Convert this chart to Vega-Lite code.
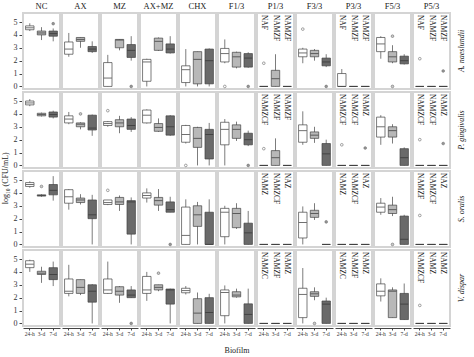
{
"$schema": "https://vega.github.io/schema/vega-lite/v6.json",
"padding": {"left": 1, "top": 1, "right": 1, "bottom": 1},
"title": {"text": "log₁₀ (CFU/mL)", "orient": "left", "anchor": "middle", "fontSize": 8, "fontWeight": "normal", "color": "#222", "offset": 3},
"data": {"values": [
{"sp":"A. naeslundii","tr":"NC","d":"24-h","lo":4.3,"q1":4.4,"md":4.55,"q3":4.7,"hi":4.9},
{"sp":"A. naeslundii","tr":"NC","d":"3-d","lo":3.6,"q1":4.0,"md":4.15,"q3":4.3,"hi":4.6},
{"sp":"A. naeslundii","tr":"NC","d":"7-d","lo":3.5,"q1":3.9,"md":4.1,"q3":4.3,"hi":4.5},
{"sp":"A. naeslundii","tr":"AX","d":"24-h","lo":2.3,"q1":2.5,"md":2.9,"q3":3.45,"hi":4.15},
{"sp":"A. naeslundii","tr":"AX","d":"3-d","lo":3.0,"q1":3.5,"md":3.65,"q3":3.8,"hi":3.8},
{"sp":"A. naeslundii","tr":"AX","d":"7-d","lo":2.6,"q1":2.7,"md":2.9,"q3":3.1,"hi":3.5},
{"sp":"A. naeslundii","tr":"MZ","d":"24-h","lo":0,"q1":0,"md":0.65,"q3":1.85,"hi":2.45},
{"sp":"A. naeslundii","tr":"MZ","d":"3-d","lo":2.8,"q1":3.0,"md":3.6,"q3":3.65,"hi":3.65},
{"sp":"A. naeslundii","tr":"MZ","d":"7-d","lo":2.0,"q1":2.25,"md":2.8,"q3":3.25,"hi":3.9},
{"sp":"A. naeslundii","tr":"AX+MZ","d":"24-h","lo":0,"q1":0.4,"md":1.9,"q3":2.1,"hi":2.15},
{"sp":"A. naeslundii","tr":"AX+MZ","d":"3-d","lo":2.75,"q1":2.8,"md":3.5,"q3":3.75,"hi":3.8},
{"sp":"A. naeslundii","tr":"AX+MZ","d":"7-d","lo":2.55,"q1":2.6,"md":2.9,"q3":3.3,"hi":3.9},
{"sp":"A. naeslundii","tr":"CHX","d":"24-h","lo":0,"q1":0.3,"md":1.3,"q3":1.6,"hi":2.9},
{"sp":"A. naeslundii","tr":"CHX","d":"3-d","lo":0,"q1":0.2,"md":2.1,"q3":2.7,"hi":2.7},
{"sp":"A. naeslundii","tr":"CHX","d":"7-d","lo":0,"q1":0.2,"md":2.0,"q3":2.9,"hi":2.95},
{"sp":"A. naeslundii","tr":"F1/3","d":"24-h","lo":1.8,"q1":1.9,"md":2.55,"q3":2.95,"hi":3.65},
{"sp":"A. naeslundii","tr":"F1/3","d":"3-d","lo":1.4,"q1":1.5,"md":2.3,"q3":2.65,"hi":2.7},
{"sp":"A. naeslundii","tr":"F1/3","d":"7-d","lo":1.45,"q1":1.5,"md":2.2,"q3":2.55,"hi":2.65},
{"sp":"A. naeslundii","tr":"P1/3","d":"24-h","lo":0,"q1":0,"md":0,"q3":0,"hi":0},
{"sp":"A. naeslundii","tr":"P1/3","d":"3-d","lo":0,"q1":0,"md":0.6,"q3":1.25,"hi":2.5},
{"sp":"A. naeslundii","tr":"P1/3","d":"7-d","lo":0,"q1":0,"md":0,"q3":0,"hi":0},
{"sp":"A. naeslundii","tr":"F3/3","d":"24-h","lo":1.8,"q1":2.3,"md":2.6,"q3":2.9,"hi":3.0},
{"sp":"A. naeslundii","tr":"F3/3","d":"3-d","lo":2.0,"q1":2.3,"md":2.55,"q3":2.8,"hi":2.9},
{"sp":"A. naeslundii","tr":"F3/3","d":"7-d","lo":1.5,"q1":1.6,"md":1.9,"q3":2.2,"hi":2.5},
{"sp":"A. naeslundii","tr":"P3/3","d":"24-h","lo":0,"q1":0,"md":0,"q3":1.0,"hi":1.35},
{"sp":"A. naeslundii","tr":"P3/3","d":"3-d","lo":0,"q1":0,"md":0,"q3":0,"hi":0},
{"sp":"A. naeslundii","tr":"P3/3","d":"7-d","lo":0,"q1":0,"md":0,"q3":0,"hi":0},
{"sp":"A. naeslundii","tr":"F5/3","d":"24-h","lo":2.15,"q1":2.7,"md":3.3,"q3":3.8,"hi":3.9},
{"sp":"A. naeslundii","tr":"F5/3","d":"3-d","lo":1.8,"q1":1.9,"md":2.3,"q3":2.7,"hi":3.2},
{"sp":"A. naeslundii","tr":"F5/3","d":"7-d","lo":1.7,"q1":1.75,"md":2.0,"q3":2.35,"hi":2.5},
{"sp":"A. naeslundii","tr":"P5/3","d":"24-h","lo":0,"q1":0,"md":0,"q3":0,"hi":0},
{"sp":"A. naeslundii","tr":"P5/3","d":"3-d","lo":0,"q1":0,"md":0,"q3":0,"hi":0},
{"sp":"A. naeslundii","tr":"P5/3","d":"7-d","lo":0,"q1":0,"md":0,"q3":0,"hi":0},
{"sp":"P. gingivalis","tr":"NC","d":"24-h","lo":4.6,"q1":4.7,"md":4.85,"q3":5.0,"hi":5.15},
{"sp":"P. gingivalis","tr":"NC","d":"3-d","lo":3.8,"q1":3.85,"md":3.95,"q3":4.05,"hi":4.1},
{"sp":"P. gingivalis","tr":"NC","d":"7-d","lo":3.65,"q1":3.75,"md":3.95,"q3":4.15,"hi":4.25},
{"sp":"P. gingivalis","tr":"AX","d":"24-h","lo":3.2,"q1":3.3,"md":3.6,"q3":3.85,"hi":4.15},
{"sp":"P. gingivalis","tr":"AX","d":"3-d","lo":2.8,"q1":3.0,"md":3.2,"q3":3.3,"hi":3.35},
{"sp":"P. gingivalis","tr":"AX","d":"7-d","lo":2.3,"q1":2.75,"md":2.9,"q3":3.9,"hi":3.95},
{"sp":"P. gingivalis","tr":"MZ","d":"24-h","lo":3.0,"q1":3.1,"md":3.25,"q3":3.4,"hi":3.45},
{"sp":"P. gingivalis","tr":"MZ","d":"3-d","lo":2.5,"q1":3.0,"md":3.3,"q3":3.55,"hi":3.85},
{"sp":"P. gingivalis","tr":"MZ","d":"7-d","lo":2.6,"q1":2.8,"md":3.1,"q3":3.6,"hi":3.75},
{"sp":"P. gingivalis","tr":"AX+MZ","d":"24-h","lo":3.25,"q1":3.3,"md":3.9,"q3":4.3,"hi":4.35},
{"sp":"P. gingivalis","tr":"AX+MZ","d":"3-d","lo":2.6,"q1":2.65,"md":2.95,"q3":3.25,"hi":3.65},
{"sp":"P. gingivalis","tr":"AX+MZ","d":"7-d","lo":2.3,"q1":2.35,"md":3.0,"q3":3.85,"hi":3.9},
{"sp":"P. gingivalis","tr":"CHX","d":"24-h","lo":1.7,"q1":1.8,"md":2.4,"q3":3.1,"hi":3.15},
{"sp":"P. gingivalis","tr":"CHX","d":"3-d","lo":0,"q1":1.4,"md":2.1,"q3":2.95,"hi":3.0},
{"sp":"P. gingivalis","tr":"CHX","d":"7-d","lo":0,"q1":0.5,"md":2.4,"q3":2.8,"hi":3.3},
{"sp":"P. gingivalis","tr":"F1/3","d":"24-h","lo":0,"q1":1.6,"md":2.8,"q3":3.35,"hi":3.6},
{"sp":"P. gingivalis","tr":"F1/3","d":"3-d","lo":1.9,"q1":2.1,"md":2.8,"q3":3.15,"hi":3.4},
{"sp":"P. gingivalis","tr":"F1/3","d":"7-d","lo":1.5,"q1":1.6,"md":2.0,"q3":2.5,"hi":2.7},
{"sp":"P. gingivalis","tr":"P1/3","d":"24-h","lo":0,"q1":0,"md":0,"q3":0,"hi":0},
{"sp":"P. gingivalis","tr":"P1/3","d":"3-d","lo":0,"q1":0,"md":0.6,"q3":1.15,"hi":2.1},
{"sp":"P. gingivalis","tr":"P1/3","d":"7-d","lo":0,"q1":0,"md":0,"q3":0,"hi":0},
{"sp":"P. gingivalis","tr":"F3/3","d":"24-h","lo":1.6,"q1":1.8,"md":2.7,"q3":3.15,"hi":4.2},
{"sp":"P. gingivalis","tr":"F3/3","d":"3-d","lo":1.75,"q1":2.1,"md":2.35,"q3":2.6,"hi":3.0},
{"sp":"P. gingivalis","tr":"F3/3","d":"7-d","lo":0,"q1":0,"md":0.9,"q3":1.7,"hi":2.0},
{"sp":"P. gingivalis","tr":"P3/3","d":"24-h","lo":0,"q1":0,"md":0,"q3":0,"hi":0},
{"sp":"P. gingivalis","tr":"P3/3","d":"3-d","lo":0,"q1":0,"md":0,"q3":0,"hi":0},
{"sp":"P. gingivalis","tr":"P3/3","d":"7-d","lo":0,"q1":0,"md":0,"q3":0,"hi":0},
{"sp":"P. gingivalis","tr":"F5/3","d":"24-h","lo":1.6,"q1":2.2,"md":3.0,"q3":3.75,"hi":3.9},
{"sp":"P. gingivalis","tr":"F5/3","d":"3-d","lo":1.7,"q1":2.2,"md":2.7,"q3":3.0,"hi":3.2},
{"sp":"P. gingivalis","tr":"F5/3","d":"7-d","lo":0,"q1":0,"md":0.6,"q3":1.3,"hi":1.4},
{"sp":"P. gingivalis","tr":"P5/3","d":"24-h","lo":0,"q1":0,"md":0,"q3":0,"hi":0},
{"sp":"P. gingivalis","tr":"P5/3","d":"3-d","lo":0,"q1":0,"md":0,"q3":0,"hi":0},
{"sp":"P. gingivalis","tr":"P5/3","d":"7-d","lo":0,"q1":0,"md":0,"q3":0,"hi":0},
{"sp":"S. oralis","tr":"NC","d":"24-h","lo":4.4,"q1":4.5,"md":4.65,"q3":4.8,"hi":4.9},
{"sp":"S. oralis","tr":"NC","d":"3-d","lo":3.7,"q1":3.75,"md":3.8,"q3":3.85,"hi":3.9},
{"sp":"S. oralis","tr":"NC","d":"7-d","lo":3.4,"q1":3.85,"md":4.2,"q3":4.65,"hi":5.3},
{"sp":"S. oralis","tr":"AX","d":"24-h","lo":2.7,"q1":3.2,"md":3.7,"q3":4.25,"hi":4.3},
{"sp":"S. oralis","tr":"AX","d":"3-d","lo":3.1,"q1":3.25,"md":3.45,"q3":3.6,"hi":3.9},
{"sp":"S. oralis","tr":"AX","d":"7-d","lo":0,"q1":2.0,"md":2.3,"q3":3.45,"hi":3.85},
{"sp":"S. oralis","tr":"MZ","d":"24-h","lo":3.05,"q1":3.1,"md":3.25,"q3":3.45,"hi":3.45},
{"sp":"S. oralis","tr":"MZ","d":"3-d","lo":2.6,"q1":3.1,"md":3.3,"q3":3.65,"hi":3.8},
{"sp":"S. oralis","tr":"MZ","d":"7-d","lo":0,"q1":0.8,"md":3.3,"q3":3.4,"hi":3.65},
{"sp":"S. oralis","tr":"AX+MZ","d":"24-h","lo":3.25,"q1":3.6,"md":3.8,"q3":4.0,"hi":4.35},
{"sp":"S. oralis","tr":"AX+MZ","d":"3-d","lo":2.6,"q1":3.05,"md":3.4,"q3":3.65,"hi":4.3},
{"sp":"S. oralis","tr":"AX+MZ","d":"7-d","lo":2.5,"q1":2.5,"md":2.7,"q3":3.3,"hi":3.7},
{"sp":"S. oralis","tr":"CHX","d":"24-h","lo":0,"q1":0,"md":0.7,"q3":2.9,"hi":3.5},
{"sp":"S. oralis","tr":"CHX","d":"3-d","lo":0,"q1":1.4,"md":2.3,"q3":3.0,"hi":3.3},
{"sp":"S. oralis","tr":"CHX","d":"7-d","lo":0,"q1":0,"md":0,"q3":2.5,"hi":3.5},
{"sp":"S. oralis","tr":"F1/3","d":"24-h","lo":0,"q1":0.6,"md":2.5,"q3":2.8,"hi":3.0},
{"sp":"S. oralis","tr":"F1/3","d":"3-d","lo":1.2,"q1":1.3,"md":2.4,"q3":2.8,"hi":3.2},
{"sp":"S. oralis","tr":"F1/3","d":"7-d","lo":0,"q1":0,"md":0.9,"q3":1.65,"hi":2.6},
{"sp":"S. oralis","tr":"P1/3","d":"24-h","lo":0,"q1":0,"md":0,"q3":0,"hi":0},
{"sp":"S. oralis","tr":"P1/3","d":"3-d","lo":0,"q1":0,"md":0,"q3":0,"hi":0},
{"sp":"S. oralis","tr":"P1/3","d":"7-d","lo":0,"q1":0,"md":0,"q3":0,"hi":0},
{"sp":"S. oralis","tr":"F3/3","d":"24-h","lo":0,"q1":0.5,"md":1.7,"q3":2.5,"hi":2.95},
{"sp":"S. oralis","tr":"F3/3","d":"3-d","lo":1.9,"q1":2.1,"md":2.4,"q3":2.65,"hi":3.2},
{"sp":"S. oralis","tr":"F3/3","d":"7-d","lo":0,"q1":0,"md":0,"q3":0,"hi":0},
{"sp":"S. oralis","tr":"P3/3","d":"24-h","lo":0,"q1":0,"md":0,"q3":0,"hi":0},
{"sp":"S. oralis","tr":"P3/3","d":"3-d","lo":0,"q1":0,"md":0,"q3":0,"hi":0},
{"sp":"S. oralis","tr":"P3/3","d":"7-d","lo":0,"q1":0,"md":0,"q3":0,"hi":0},
{"sp":"S. oralis","tr":"F5/3","d":"24-h","lo":2.3,"q1":2.5,"md":2.9,"q3":3.2,"hi":3.6},
{"sp":"S. oralis","tr":"F5/3","d":"3-d","lo":2.2,"q1":2.4,"md":2.7,"q3":3.05,"hi":3.7},
{"sp":"S. oralis","tr":"F5/3","d":"7-d","lo":0,"q1":0,"md":0.4,"q3":2.2,"hi":2.3},
{"sp":"S. oralis","tr":"P5/3","d":"24-h","lo":0,"q1":0,"md":0,"q3":0,"hi":0},
{"sp":"S. oralis","tr":"P5/3","d":"3-d","lo":0,"q1":0,"md":0,"q3":0,"hi":0},
{"sp":"S. oralis","tr":"P5/3","d":"7-d","lo":0,"q1":0,"md":0,"q3":0,"hi":0},
{"sp":"V. dispar","tr":"NC","d":"24-h","lo":4.0,"q1":4.33,"md":4.6,"q3":4.87,"hi":4.95},
{"sp":"V. dispar","tr":"NC","d":"3-d","lo":3.15,"q1":3.8,"md":3.9,"q3":4.05,"hi":4.4},
{"sp":"V. dispar","tr":"NC","d":"7-d","lo":2.9,"q1":3.4,"md":3.8,"q3":4.33,"hi":4.8},
{"sp":"V. dispar","tr":"AX","d":"24-h","lo":2.1,"q1":2.33,"md":2.5,"q3":3.45,"hi":4.55},
{"sp":"V. dispar","tr":"AX","d":"3-d","lo":2.2,"q1":2.33,"md":2.8,"q3":3.4,"hi":3.4},
{"sp":"V. dispar","tr":"AX","d":"7-d","lo":0,"q1":1.65,"md":2.5,"q3":3.0,"hi":3.05},
{"sp":"V. dispar","tr":"MZ","d":"24-h","lo":2.3,"q1":2.33,"md":2.6,"q3":3.45,"hi":4.8},
{"sp":"V. dispar","tr":"MZ","d":"3-d","lo":1.6,"q1":2.2,"md":2.5,"q3":2.85,"hi":2.9},
{"sp":"V. dispar","tr":"MZ","d":"7-d","lo":2.0,"q1":2.0,"md":2.2,"q3":2.6,"hi":2.9},
{"sp":"V. dispar","tr":"AX+MZ","d":"24-h","lo":1.75,"q1":2.33,"md":2.6,"q3":3.65,"hi":4.0},
{"sp":"V. dispar","tr":"AX+MZ","d":"3-d","lo":2.5,"q1":2.6,"md":2.8,"q3":3.0,"hi":3.0},
{"sp":"V. dispar","tr":"AX+MZ","d":"7-d","lo":0,"q1":1.5,"md":2.6,"q3":2.67,"hi":2.7},
{"sp":"V. dispar","tr":"CHX","d":"24-h","lo":2.25,"q1":2.38,"md":2.55,"q3":2.73,"hi":2.9},
{"sp":"V. dispar","tr":"CHX","d":"3-d","lo":0,"q1":0,"md":0.8,"q3":1.92,"hi":2.4},
{"sp":"V. dispar","tr":"CHX","d":"7-d","lo":0,"q1":0,"md":0.85,"q3":2.0,"hi":2.3},
{"sp":"V. dispar","tr":"F1/3","d":"24-h","lo":0,"q1":0.6,"md":2.4,"q3":2.6,"hi":2.95},
{"sp":"V. dispar","tr":"F1/3","d":"3-d","lo":2.0,"q1":2.06,"md":2.2,"q3":2.46,"hi":2.7},
{"sp":"V. dispar","tr":"F1/3","d":"7-d","lo":0,"q1":0,"md":0.7,"q3":1.52,"hi":2.7},
{"sp":"V. dispar","tr":"P1/3","d":"24-h","lo":0,"q1":0,"md":0,"q3":0,"hi":0},
{"sp":"V. dispar","tr":"P1/3","d":"3-d","lo":0,"q1":0,"md":0,"q3":0,"hi":0},
{"sp":"V. dispar","tr":"P1/3","d":"7-d","lo":0,"q1":0,"md":0,"q3":0,"hi":0},
{"sp":"V. dispar","tr":"F3/3","d":"24-h","lo":0,"q1":0.45,"md":2.25,"q3":2.73,"hi":4.3},
{"sp":"V. dispar","tr":"F3/3","d":"3-d","lo":1.8,"q1":2.1,"md":2.3,"q3":2.46,"hi":2.8},
{"sp":"V. dispar","tr":"F3/3","d":"7-d","lo":0,"q1":0,"md":1.5,"q3":1.74,"hi":2.0},
{"sp":"V. dispar","tr":"P3/3","d":"24-h","lo":0,"q1":0,"md":0,"q3":0,"hi":0},
{"sp":"V. dispar","tr":"P3/3","d":"3-d","lo":0,"q1":0,"md":0,"q3":0,"hi":0},
{"sp":"V. dispar","tr":"P3/3","d":"7-d","lo":0,"q1":0,"md":0,"q3":0,"hi":0},
{"sp":"V. dispar","tr":"F5/3","d":"24-h","lo":1.7,"q1":2.14,"md":2.5,"q3":3.07,"hi":3.5},
{"sp":"V. dispar","tr":"F5/3","d":"3-d","lo":0.45,"q1":0.45,"md":2.5,"q3":2.6,"hi":2.8},
{"sp":"V. dispar","tr":"F5/3","d":"7-d","lo":0.3,"q1":0.3,"md":1.5,"q3":2.33,"hi":3.1},
{"sp":"V. dispar","tr":"P5/3","d":"24-h","lo":0,"q1":0,"md":0,"q3":0,"hi":0},
{"sp":"V. dispar","tr":"P5/3","d":"3-d","lo":0,"q1":0,"md":0,"q3":0,"hi":0},
{"sp":"V. dispar","tr":"P5/3","d":"7-d","lo":0,"q1":0,"md":0,"q3":0,"hi":0},
{"sp":"A. naeslundii","tr":"NC","d":"7-d","o":4.87},
{"sp":"A. naeslundii","tr":"MZ","d":"7-d","o":0},
{"sp":"A. naeslundii","tr":"F1/3","d":"24-h","o":0},
{"sp":"A. naeslundii","tr":"F1/3","d":"7-d","o":0},
{"sp":"A. naeslundii","tr":"P1/3","d":"24-h","o":1.8},
{"sp":"A. naeslundii","tr":"F3/3","d":"24-h","o":4.45},
{"sp":"A. naeslundii","tr":"F3/3","d":"7-d","o":0},
{"sp":"A. naeslundii","tr":"F5/3","d":"3-d","o":3.9},
{"sp":"A. naeslundii","tr":"F5/3","d":"3-d","o":0},
{"sp":"A. naeslundii","tr":"P5/3","d":"24-h","o":2.15},
{"sp":"A. naeslundii","tr":"P5/3","d":"7-d","o":1.2},
{"sp":"P. gingivalis","tr":"AX","d":"3-d","o":4.0},
{"sp":"P. gingivalis","tr":"MZ","d":"24-h","o":4.25},
{"sp":"P. gingivalis","tr":"CHX","d":"24-h","o":0},
{"sp":"P. gingivalis","tr":"F1/3","d":"7-d","o":0},
{"sp":"P. gingivalis","tr":"P1/3","d":"24-h","o":1.3},
{"sp":"P. gingivalis","tr":"P3/3","d":"24-h","o":1.6},
{"sp":"P. gingivalis","tr":"P3/3","d":"7-d","o":1.35},
{"sp":"P. gingivalis","tr":"P5/3","d":"24-h","o":2.0},
{"sp":"P. gingivalis","tr":"P5/3","d":"7-d","o":1.7},
{"sp":"S. oralis","tr":"NC","d":"3-d","o":4.5},
{"sp":"S. oralis","tr":"MZ","d":"24-h","o":4.2},
{"sp":"S. oralis","tr":"AX+MZ","d":"7-d","o":0},
{"sp":"S. oralis","tr":"F3/3","d":"7-d","o":1.75},
{"sp":"S. oralis","tr":"F5/3","d":"3-d","o":0},
{"sp":"S. oralis","tr":"P5/3","d":"24-h","o":2.25},
{"sp":"V. dispar","tr":"MZ","d":"7-d","o":0},
{"sp":"V. dispar","tr":"AX+MZ","d":"3-d","o":3.9},
{"sp":"V. dispar","tr":"F3/3","d":"3-d","o":0},
{"sp":"V. dispar","tr":"P5/3","d":"24-h","o":1.4},
{"sp":"A. naeslundii","tr":"P1/3","d":"24-h","lab":"NAF"},
{"sp":"A. naeslundii","tr":"P1/3","d":"3-d","lab":"NAMZF"},
{"sp":"A. naeslundii","tr":"P1/3","d":"7-d","lab":"NAMZF"},
{"sp":"A. naeslundii","tr":"P3/3","d":"24-h","lab":"NAF"},
{"sp":"A. naeslundii","tr":"P3/3","d":"3-d","lab":"NAMZF"},
{"sp":"A. naeslundii","tr":"P3/3","d":"7-d","lab":"NAMZF"},
{"sp":"A. naeslundii","tr":"P5/3","d":"24-h","lab":"NAF"},
{"sp":"A. naeslundii","tr":"P5/3","d":"3-d","lab":"NAMZF"},
{"sp":"A. naeslundii","tr":"P5/3","d":"7-d","lab":"NAMZF"},
{"sp":"P. gingivalis","tr":"P1/3","d":"24-h","lab":"NAMZCF"},
{"sp":"P. gingivalis","tr":"P1/3","d":"3-d","lab":"NAMZF"},
{"sp":"P. gingivalis","tr":"P1/3","d":"7-d","lab":"NAMZF"},
{"sp":"P. gingivalis","tr":"P3/3","d":"24-h","lab":"NAMZCF"},
{"sp":"P. gingivalis","tr":"P3/3","d":"3-d","lab":"NAMZCF"},
{"sp":"P. gingivalis","tr":"P3/3","d":"7-d","lab":"NAMZ"},
{"sp":"P. gingivalis","tr":"P5/3","d":"24-h","lab":"NAMZCF"},
{"sp":"P. gingivalis","tr":"P5/3","d":"3-d","lab":"NAMZCF"},
{"sp":"P. gingivalis","tr":"P5/3","d":"7-d","lab":"NAMZ"},
{"sp":"S. oralis","tr":"P1/3","d":"24-h","lab":"NAMZ"},
{"sp":"S. oralis","tr":"P1/3","d":"3-d","lab":"NAMZCF"},
{"sp":"S. oralis","tr":"P1/3","d":"7-d","lab":"NAZ"},
{"sp":"S. oralis","tr":"P3/3","d":"24-h","lab":"NAMZ"},
{"sp":"S. oralis","tr":"P3/3","d":"3-d","lab":"NAMZCF"},
{"sp":"S. oralis","tr":"P3/3","d":"7-d","lab":"NAZ"},
{"sp":"S. oralis","tr":"P5/3","d":"24-h","lab":"NAMZF"},
{"sp":"S. oralis","tr":"P5/3","d":"3-d","lab":"NAMZCF"},
{"sp":"S. oralis","tr":"P5/3","d":"7-d","lab":"NAZ"},
{"sp":"V. dispar","tr":"P1/3","d":"24-h","lab":"NAMZC"},
{"sp":"V. dispar","tr":"P1/3","d":"3-d","lab":"NAMZF"},
{"sp":"V. dispar","tr":"P1/3","d":"7-d","lab":"NAMZ"},
{"sp":"V. dispar","tr":"P3/3","d":"24-h","lab":"NAMZC"},
{"sp":"V. dispar","tr":"P3/3","d":"3-d","lab":"NAMZF"},
{"sp":"V. dispar","tr":"P3/3","d":"7-d","lab":"NAMZ"},
{"sp":"V. dispar","tr":"P5/3","d":"24-h","lab":"NAMZCF"},
{"sp":"V. dispar","tr":"P5/3","d":"3-d","lab":"NAMZ"},
{"sp":"V. dispar","tr":"P5/3","d":"7-d","lab":"NAMZ"}
]},
"facet": {
  "row": {"field": "sp", "type": "nominal", "title": null,
    "sort": ["A. naeslundii", "P. gingivalis", "S. oralis", "V. dispar"],
    "header": {"labelOrient": "right", "labelAngle": -90, "labelFontStyle": "italic", "labelFontSize": 8, "labelPadding": 3, "labelColor": "#222"}},
  "column": {"field": "tr", "type": "nominal", "title": "Biofilm",
    "sort": ["NC", "AX", "MZ", "AX+MZ", "CHX", "F1/3", "P1/3", "F3/3", "P3/3", "F5/3", "P5/3"],
    "header": {"labelFontSize": 8.5, "labelPadding": 2, "labelColor": "#222", "labelOrient": "top",
      "titleOrient": "bottom", "titleFontSize": 8, "titleFontWeight": "normal", "titleColor": "#222", "titlePadding": 0}}
},
"spacing": {"row": 0, "column": 0},
"spec": {
  "width": 37,
  "height": 76,
  "encoding": {
    "x": {"field": "d", "type": "nominal", "sort": ["24-h", "3-d", "7-d"], "title": null,
      "scale": {"paddingInner": 0.28, "paddingOuter": 0.22},
      "axis": {"labelAngle": 0, "labelFontSize": 5.5, "tickSize": 2, "labelPadding": 1}}
  },
  "layer": [
    {"transform": [{"filter": "isValid(datum.lo)"}],
     "mark": {"type": "rule", "color": "#444", "strokeWidth": 0.7},
     "encoding": {
       "y": {"field": "lo", "type": "quantitative", "title": null,
         "scale": {"domain": [-0.2, 5.7], "nice": false, "zero": false},
         "axis": {"values": [0, 1, 2, 3, 4, 5], "labelFontSize": 8, "tickSize": 3}},
       "y2": {"field": "hi"}}},
    {"transform": [{"filter": "isValid(datum.q1)"}],
     "mark": {"type": "bar", "stroke": "#444", "strokeWidth": 0.7},
     "encoding": {
       "y": {"field": "q1", "type": "quantitative", "title": null, "axis": {"values": [0, 1, 2, 3, 4, 5], "labelFontSize": 8, "tickSize": 3}},
       "y2": {"field": "q3"},
       "fill": {"field": "d", "type": "nominal", "legend": null,
         "scale": {"domain": ["24-h", "3-d", "7-d"], "range": ["#ffffff", "#b8b8b8", "#6a6a6a"]}}}},
    {"transform": [{"filter": "isValid(datum.md)"}],
     "mark": {"type": "tick", "color": "#333", "thickness": 1, "size": 8},
     "encoding": {"y": {"field": "md", "type": "quantitative", "title": null, "axis": {"values": [0, 1, 2, 3, 4, 5], "labelFontSize": 8, "tickSize": 3}}}},
    {"transform": [{"filter": "isValid(datum.o)"}],
     "mark": {"type": "point", "shape": "circle", "size": 7, "stroke": "#444", "strokeWidth": 0.7, "filled": false},
     "encoding": {"y": {"field": "o", "type": "quantitative", "title": null, "axis": {"values": [0, 1, 2, 3, 4, 5], "labelFontSize": 8, "tickSize": 3}},
       "fill": {"field": "d", "type": "nominal", "legend": null}}},
    {"transform": [{"filter": "isValid(datum.lab)"}],
     "mark": {"type": "text", "angle": 90, "align": "left", "baseline": "middle", "fontSize": 7.5, "fontStyle": "normal", "font": "Liberation Serif", "color": "#222"},
     "encoding": {"y": {"datum": 5.55, "type": "quantitative", "title": null, "axis": {"values": [0, 1, 2, 3, 4, 5], "labelFontSize": 8, "tickSize": 3}}, "text": {"field": "lab"}}}
  ]
},
"config": {
  "font": "Liberation Serif",
  "view": {"stroke": "#d4d4d4", "strokeWidth": 2},
  "axis": {"grid": false, "domainColor": "#444", "tickColor": "#444", "labelColor": "#333", "titleColor": "#222"},
  "axisY": {"tickCount": 6}
}
}
